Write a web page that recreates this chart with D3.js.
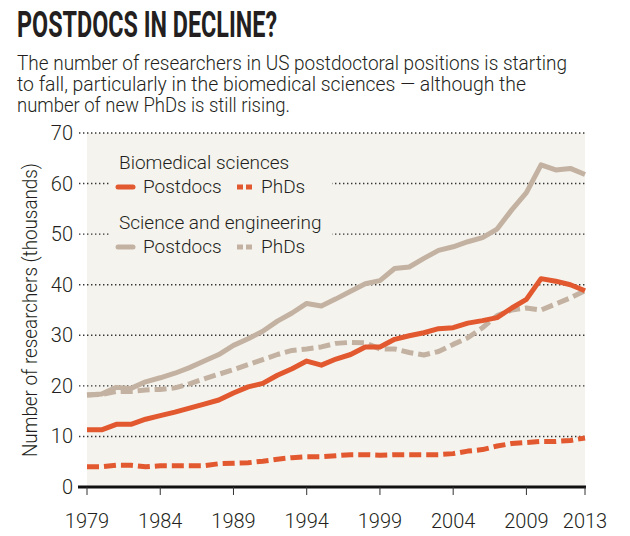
<!DOCTYPE html>
<html lang="en">
  <head>
    <meta charset="utf-8">
    <title>Postdocs in decline?</title>
    <script src="https://d3js.org/d3.v7.min.js"></script>
    <style media="screen" type="text/css">
      body { margin: 0; background: #fff; }
      svg text { font-family: Roboto, "Noto Sans", sans-serif; font-weight: 300; fill: #231f20; }
    </style>
  </head>
  <body>
    <div id="chart"></div>
    <script type="text/javascript">
      // Data (thousands of researchers)
      const years = d3.range(1979, 2014);
      const bioPostdocs = [11.3, 11.3, 12.4, 12.4, 13.4, 14.1, 14.8, 15.6, 16.4, 17.2,
        18.6, 19.8, 20.5, 22.1, 23.4, 24.9, 24.1, 25.3, 26.2, 27.7,
        27.7, 29.2, 29.9, 30.5, 31.3, 31.5, 32.4, 32.9, 33.5, 35.4,
        37.1, 41.2, 40.7, 40.0, 38.8];
      const bioPhds = [4.0, 4.0, 4.3, 4.3, 4.0, 4.2, 4.2, 4.2, 4.2, 4.6,
        4.7, 4.8, 5.1, 5.5, 5.8, 6.0, 6.0, 6.2, 6.4, 6.4,
        6.3, 6.4, 6.4, 6.4, 6.4, 6.6, 7.1, 7.4, 8.1, 8.6,
        8.8, 9.0, 9.0, 9.2, 9.7];
      const sePostdocs = [18.2, 18.4, 19.7, 19.5, 20.8, 21.6, 22.5, 23.6, 24.9, 26.2,
        28.0, 29.3, 30.8, 32.8, 34.4, 36.3, 35.8, 37.2, 38.7, 40.2,
        40.8, 43.2, 43.5, 45.2, 46.8, 47.5, 48.5, 49.3, 51.0, 54.8,
        58.2, 63.7, 62.7, 63.0, 61.8];
      const sePhds = [18.2, 18.3, 18.9, 18.9, 19.2, 19.3, 19.6, 20.4, 21.4, 22.3,
        23.2, 24.2, 25.2, 26.2, 27.0, 27.3, 27.7, 28.4, 28.6, 28.5,
        27.3, 27.3, 26.6, 26.1, 26.8, 28.2, 29.5, 31.5, 33.9, 35.0,
        35.4, 35.0, 36.2, 37.4, 38.8];
      const xTicks = [1979, 1984, 1989, 1994, 1999, 2004, 2009, 2013];
      const yTicks = [0, 10, 20, 30, 40, 50, 60, 70];
      const subtitle = [
        'The number of researchers in US postdoctoral positions is starting',
        'to fall, particularly in the biomedical sciences \u2014 although the',
        'number of new PhDs is still rising.'
      ];

      // Look
      const orange = '#e2582f';
      const beige = '#c3b2a1';
      const plotBg = '#f5f3ee';
      const width = 630, height = 536;
      const m = { left: 87, right: 585, top: 133, bottom: 487 };

      const svg = d3.select('#chart').append('svg')
        .attr('width', width)
        .attr('height', height);

      const x = d3.scaleLinear().domain([1979, 2013]).range([m.left, m.right]);
      const y = d3.scaleLinear().domain([0, 70]).range([m.bottom, m.top]);

      // Title and subtitle
      svg.append('text')
        .attr('x', 17).attr('y', 37)
        .attr('font-size', 36)
        .style('font-weight', 700)
        .attr('textLength', 260).attr('lengthAdjust', 'spacingAndGlyphs')
        .text('POSTDOCS IN DECLINE?');

      const subWidths = [550, 509, 273];
      svg.selectAll('.sub')
        .data(subtitle)
        .enter().append('text')
          .attr('class', 'sub')
          .attr('x', 17)
          .attr('y', (d, i) => 70 + i * 21)
          .attr('font-size', 19.5)
          .attr('textLength', (d, i) => subWidths[i])
          .attr('lengthAdjust', 'spacingAndGlyphs')
          .text(d => d);

      // Plot background
      svg.append('rect')
        .attr('x', m.left).attr('y', m.top)
        .attr('width', m.right - m.left).attr('height', m.bottom - m.top)
        .attr('fill', plotBg);

      // Gridlines
      svg.selectAll('.grid')
        .data(yTicks.filter(d => d > 0))
        .enter().append('line')
          .attr('class', 'grid')
          .attr('x1', 79).attr('x2', 587)
          .attr('y1', d => y(d)).attr('y2', d => y(d))
          .attr('stroke', '#333')
          .attr('stroke-width', 1.4)
          .attr('stroke-dasharray', '1.4,2.6');

      // Y tick labels
      svg.selectAll('.ylab')
        .data(yTicks)
        .enter().append('text')
          .attr('class', 'ylab')
          .attr('x', 73)
          .attr('y', d => y(d))
          .attr('dy', '0.35em')
          .attr('text-anchor', 'end')
          .attr('font-size', 20)
          .text(d => d);

      // Y axis title
      svg.append('text')
        .attr('transform', 'translate(37,310) rotate(-90)')
        .attr('text-anchor', 'middle')
        .attr('font-size', 19.5)
        .attr('textLength', 294).attr('lengthAdjust', 'spacingAndGlyphs')
        .text('Number of researchers (thousands)');

      // Legend box hides the gridlines behind it
      svg.append('rect')
        .attr('x', 110).attr('y', 142)
        .attr('width', 222).attr('height', 120)
        .attr('fill', plotBg);

      // Lines
      const line = d3.line()
        .x((d, i) => x(years[i]))
        .y(d => y(d));

      const series = [
        { values: sePhds, color: beige, dash: '12,5' },
        { values: sePostdocs, color: beige, dash: null },
        { values: bioPhds, color: orange, dash: '12,5' },
        { values: bioPostdocs, color: orange, dash: null }
      ];

      svg.selectAll('.series')
        .data(series)
        .enter().append('path')
          .attr('class', 'series')
          .attr('d', d => line(d.values))
          .attr('fill', 'none')
          .attr('stroke', d => d.color)
          .attr('stroke-width', 5)
          .attr('stroke-linejoin', 'round')
          .attr('stroke-dasharray', d => d.dash);

      // X axis
      svg.append('line')
        .attr('x1', 78).attr('x2', m.right + 1)
        .attr('y1', m.bottom).attr('y2', m.bottom)
        .attr('stroke', '#111').attr('stroke-width', 3);

      svg.selectAll('.xtick')
        .data(xTicks)
        .enter().append('line')
          .attr('class', 'xtick')
          .attr('x1', d => x(d)).attr('x2', d => x(d))
          .attr('y1', m.bottom).attr('y2', m.bottom + 8)
          .attr('stroke', '#333').attr('stroke-width', 1);

      svg.selectAll('.xlab')
        .data(xTicks)
        .enter().append('text')
          .attr('class', 'xlab')
          .attr('x', d => x(d))
          .attr('y', 528)
          .attr('text-anchor', 'middle')
          .attr('font-size', 20)
          .text(d => d);

      // Legend
      const legendGroups = [
        { title: 'Biomedical sciences', color: orange, y: 169 },
        { title: 'Science and engineering', color: beige, y: 229 }
      ];

      const lg = svg.selectAll('.legend')
        .data(legendGroups)
        .enter().append('g')
          .attr('class', 'legend')
          .attr('transform', d => `translate(0,${d.y})`);

      lg.append('text')
        .attr('x', 119).attr('y', 0)
        .attr('font-size', 19)
        .text(d => d.title);

      lg.append('line')
        .attr('x1', 118).attr('x2', 133)
        .attr('y1', 18).attr('y2', 18)
        .attr('stroke', d => d.color).attr('stroke-width', 5)
        .attr('stroke-linecap', 'round');

      lg.append('text')
        .attr('x', 143).attr('y', 24)
        .attr('font-size', 19)
        .text('Postdocs');

      lg.append('line')
        .attr('x1', 237).attr('x2', 252)
        .attr('y1', 18).attr('y2', 18)
        .attr('stroke', d => d.color).attr('stroke-width', 5)
        .attr('stroke-dasharray', '6,3');

      lg.append('text')
        .attr('x', 261).attr('y', 24)
        .attr('font-size', 19)
        .text('PhDs');
    </script>
  </body>
</html>
